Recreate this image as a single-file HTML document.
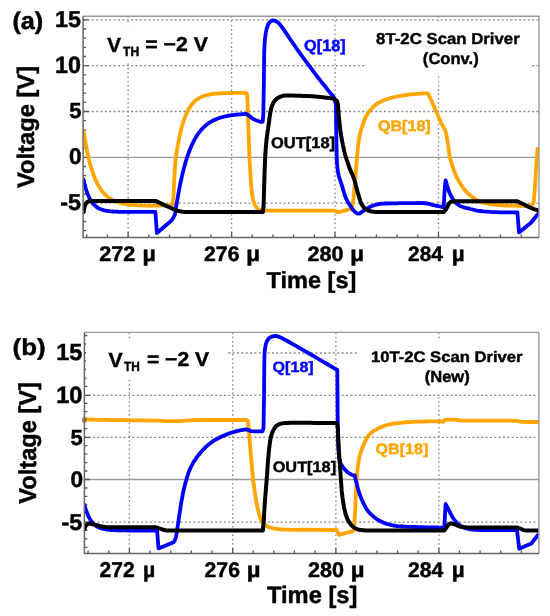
<!DOCTYPE html>
<html><head><meta charset="utf-8"><title>Scan driver waveforms</title>
<style>
html,body{margin:0;padding:0;background:#fff;width:550px;height:616px;overflow:hidden}
svg{display:block}
text{font-family:"Liberation Sans",Arial,sans-serif;font-weight:bold;fill:#000;text-rendering:geometricPrecision;stroke:#000;stroke-width:0.45px}
.tb{fill:#0000ff;stroke:#0000ff}.to{fill:#ffa500;stroke:#ffa500}
.g{stroke:#888;stroke-width:1.3;stroke-dasharray:2 2.36;fill:none}
.gv{stroke:#888;stroke-width:1.3;stroke-dasharray:1.6 2.7;fill:none}
.z{stroke:#9a9a9a;stroke-width:1.3;fill:none}
.t{stroke:#555;stroke-width:1.3;fill:none}
.c{fill:none;stroke-linejoin:round;stroke-linecap:round}
</style></head><body>
<svg width="550" height="616" viewBox="0 0 550 616">
<rect width="550" height="616" fill="#fff"/>

<defs><clipPath id="ca"><rect x="83.1" y="16.2" width="455.9" height="221.4"/></clipPath></defs>
<line x1="83.1" y1="19.8" x2="539.0" y2="19.8" class="g"/>
<line x1="83.1" y1="65.6" x2="539.0" y2="65.6" class="g"/>
<line x1="83.1" y1="111.5" x2="539.0" y2="111.5" class="g"/>
<line x1="83.1" y1="203.1" x2="539.0" y2="203.1" class="g"/>
<line x1="128.1" y1="16.2" x2="128.1" y2="237.6" class="gv"/>
<line x1="231.6" y1="16.2" x2="231.6" y2="237.6" class="gv"/>
<line x1="335.0" y1="16.2" x2="335.0" y2="237.6" class="gv"/>
<line x1="438.5" y1="16.2" x2="438.5" y2="237.6" class="gv"/>
<line x1="83.1" y1="157.3" x2="539.0" y2="157.3" class="z"/>
<path d="M128.1,237.6v-5.5M231.6,237.6v-5.5M335.0,237.6v-5.5M438.5,237.6v-5.5M86.7,237.6v-3M107.4,237.6v-3M148.8,237.6v-3M169.5,237.6v-3M190.2,237.6v-3M210.9,237.6v-3M252.2,237.6v-3M272.9,237.6v-3M293.6,237.6v-3M314.3,237.6v-3M355.7,237.6v-3M376.4,237.6v-3M397.1,237.6v-3M417.8,237.6v-3M459.1,237.6v-3M479.8,237.6v-3M500.5,237.6v-3M521.2,237.6v-3M83.1,19.8h5.5M83.1,65.6h5.5M83.1,111.5h5.5M83.1,203.1h5.5M83.1,157.3h5.5M83.1,230.6h3M83.1,221.5h3M83.1,212.3h3M83.1,194.0h3M83.1,184.8h3M83.1,175.6h3M83.1,166.5h3M83.1,148.1h3M83.1,139.0h3M83.1,129.8h3M83.1,120.6h3M83.1,102.3h3M83.1,93.1h3M83.1,84.0h3M83.1,74.8h3M83.1,56.5h3M83.1,47.3h3M83.1,38.1h3M83.1,29.0h3" class="t"/>
<rect x="86.0" y="25.0" width="141.0" height="38.0" fill="#fff"/>
<rect x="366.0" y="21.5" width="166.0" height="53.5" fill="#fff"/>
<g clip-path="url(#ca)">
<path d="M83.5,131.0 L84.5,137.2 L85.5,143.0 L86.5,148.2 L87.5,153.0 L88.5,157.4 L89.5,161.5 L90.5,165.2 L91.5,168.6 L92.5,171.7 L93.5,174.6 L94.5,177.2 L95.5,179.6 L96.5,181.8 L97.5,183.8 L98.5,185.6 L99.5,187.3 L100.5,188.9 L101.5,190.3 L102.5,191.6 L103.5,192.8 L104.5,193.9 L105.5,194.9 L106.5,195.8 L107.5,196.7 L108.5,197.5 L109.5,198.2 L110.5,198.8 L111.5,199.4 L112.5,200.0 L113.5,200.5 L114.5,200.9 L115.5,201.4 L116.5,201.7 L117.5,202.1 L118.5,202.4 L119.5,202.7 L120.5,203.0 L121.5,203.2 L122.5,203.5 L123.5,203.7 L124.5,203.9 L125.5,204.1 L126.5,204.2 L127.5,204.4 L128.5,204.5 L129.5,204.6 L130.5,204.7 L131.5,204.8 L132.5,204.9 L133.5,205.0 L134.5,205.1 L135.5,205.2 L136.5,205.3 L137.5,205.3 L138.5,205.4 L139.5,205.4 L140.5,205.5 L141.5,205.5 L142.5,205.6 L143.5,205.6 L144.5,205.6 L145.5,205.7 L146.5,205.7 L147.5,205.7 L148.5,205.7 L149.5,205.8 L150.0,205.8 L150.0,205.8 L151.1,205.8 L152.6,205.7 L154.3,205.6 L156.3,205.5 L158.2,205.5 L160.0,205.4 L161.8,205.4 L163.8,205.3 L165.8,205.3 L167.6,205.3 L169.2,205.2 L170.5,205.2 L171.3,205.2 L171.8,205.1 L172.1,205.1 L172.2,205.1 L172.2,205.0 L172.3,205.0 L172.6,203.3 L172.9,200.8 L173.3,197.8 L173.6,194.7 L173.8,191.5 L173.9,188.0 L174.0,184.2 L174.2,180.0 L174.5,174.9 L174.9,169.1 L175.2,163.7 L175.5,160.0 L176.5,153.1 L177.5,147.0 L178.5,141.5 L179.5,136.5 L180.5,132.1 L181.5,128.1 L182.5,124.5 L183.5,121.2 L184.5,118.3 L185.5,115.7 L186.5,113.4 L187.5,111.3 L188.5,109.4 L189.5,107.7 L190.5,106.2 L191.5,104.8 L192.5,103.6 L193.5,102.5 L194.5,101.5 L195.5,100.6 L196.5,99.8 L197.5,99.1 L198.5,98.5 L199.5,97.9 L200.5,97.4 L201.5,96.9 L202.5,96.5 L203.5,96.1 L204.5,95.8 L205.5,95.5 L206.5,95.2 L207.5,95.0 L208.5,94.7 L209.5,94.5 L210.5,94.4 L211.5,94.2 L212.5,94.1 L213.5,93.9 L214.5,93.8 L215.5,93.7 L216.5,93.6 L217.5,93.5 L218.5,93.5 L219.5,93.4 L220.5,93.3 L221.5,93.3 L222.5,93.2 L223.5,93.2 L224.5,93.1 L225.5,93.1 L226.5,93.1 L227.5,93.1 L228.5,93.0 L229.5,93.0 L230.5,93.0 L231.5,93.0 L232.5,92.9 L233.5,92.9 L234.5,92.9 L235.5,92.9 L236.5,92.9 L237.5,92.9 L238.5,92.9 L239.5,92.9 L240.5,92.9 L241.5,92.9 L242.5,92.8 L243.5,92.8 L244.5,92.8 L245.5,92.8 L246.9,93.6 L247.5,100.0 L247.8,112.0 L248.5,130.0 L249.6,160.0 L251.1,185.0 L251.3,186.6 L251.5,188.9 L251.8,191.5 L252.2,194.3 L252.5,196.9 L252.9,199.0 L253.3,200.7 L253.8,202.1 L254.3,203.4 L254.8,204.6 L255.3,205.6 L255.8,206.5 L256.3,207.3 L256.8,207.9 L257.3,208.4 L257.9,208.8 L258.4,209.2 L259.0,209.5 L259.6,209.8 L260.2,210.0 L260.8,210.2 L261.4,210.3 L262.2,210.4 L263.0,210.5 L264.1,210.6 L265.4,210.6 L266.8,210.7 L268.1,210.7 L269.2,210.7 L270.0,210.7 L335.0,210.7 L338.0,212.3 L351.9,208.6 L352.1,207.5 L352.4,206.0 L352.7,204.2 L353.0,202.2 L353.3,200.1 L353.6,198.0 L353.8,196.0 L354.0,194.0 L354.2,191.9 L354.3,189.6 L354.5,186.9 L354.8,183.8 L355.1,180.0 L355.5,175.5 L355.9,170.7 L356.3,165.9 L356.7,161.4 L357.0,157.5 L357.3,154.2 L357.6,151.3 L357.8,148.7 L358.1,146.4 L358.3,144.1 L358.6,142.0 L358.9,140.0 L359.2,138.1 L359.5,136.5 L359.8,134.9 L360.2,133.4 L360.5,132.0 L360.8,130.7 L361.2,129.5 L361.5,128.4 L361.9,127.3 L362.3,126.2 L362.7,125.0 L363.2,123.6 L363.7,122.2 L364.2,120.7 L364.8,119.2 L365.4,117.8 L366.0,116.5 L366.6,115.4 L367.2,114.3 L367.8,113.4 L368.4,112.5 L369.1,111.5 L370.0,110.5 L371.0,109.4 L372.0,108.2 L373.1,107.0 L374.3,105.8 L375.7,104.7 L377.3,103.6 L379.0,102.6 L380.9,101.6 L383.0,100.7 L385.2,99.8 L387.5,99.0 L390.0,98.2 L392.7,97.5 L395.7,96.8 L398.9,96.2 L402.1,95.6 L405.2,95.1 L408.2,94.7 L411.2,94.3 L414.2,94.1 L417.3,93.8 L420.1,93.7 L422.5,93.5 L424.5,93.4 L425.9,93.3 L426.7,93.3 L427.3,93.3 L427.6,93.3 L427.8,93.3 L428.0,93.3 L432.0,102.0 L436.2,111.2 L440.9,122.4 L445.2,130.2 L445.3,130.8 L445.5,131.5 L445.8,132.4 L446.1,133.5 L446.3,134.7 L446.6,136.0 L446.9,137.5 L447.2,139.2 L447.5,141.0 L447.8,143.0 L448.1,144.9 L448.4,146.7 L448.6,148.5 L448.8,150.2 L449.0,151.9 L449.3,153.7 L449.5,155.5 L449.9,157.3 L450.4,159.2 L450.9,161.2 L451.5,163.2 L452.1,165.2 L452.8,167.2 L453.5,169.2 L454.3,171.2 L455.1,173.2 L455.9,175.2 L456.8,177.2 L457.7,179.1 L458.7,180.9 L459.7,182.6 L460.7,184.3 L461.8,185.9 L462.8,187.4 L463.9,188.9 L465.1,190.3 L466.3,191.6 L467.5,192.9 L468.8,194.1 L470.1,195.2 L471.4,196.3 L472.7,197.3 L474.0,198.2 L475.3,199.1 L476.7,199.9 L478.0,200.7 L479.5,201.4 L481.0,202.0 L482.6,202.5 L484.2,203.0 L485.9,203.4 L487.7,203.7 L489.6,204.0 L491.5,204.3 L493.4,204.6 L495.3,204.8 L497.3,205.0 L499.5,205.2 L502.0,205.4 L505.0,205.5 L508.9,205.6 L513.7,205.7 L518.8,205.8 L523.8,205.9 L528.0,206.0 L531.0,206.0 L533.5,203.0 L534.8,190.0 L536.0,170.0 L537.6,149.0" class="c" stroke="#ffa500" stroke-width="3.8"/>
<path d="M83.5,179.5 L84.5,183.8 L85.5,187.6 L86.5,190.8 L87.5,193.6 L88.5,196.1 L89.5,198.2 L90.5,200.0 L91.5,201.6 L92.5,203.0 L93.5,204.2 L94.5,205.2 L95.5,206.1 L96.5,206.9 L97.5,207.6 L98.5,208.2 L99.5,208.7 L100.5,209.1 L101.5,209.5 L102.5,209.8 L103.5,210.1 L104.5,210.4 L105.5,210.6 L106.5,210.8 L107.5,210.9 L108.5,211.1 L109.5,211.2 L110.5,211.3 L111.5,211.4 L112.5,211.5 L113.5,211.6 L114.5,211.6 L115.5,211.7 L116.5,211.7 L117.5,211.7 L118.5,211.8 L119.5,211.8 L120.5,211.8 L121.5,211.9 L122.5,211.9 L123.5,211.9 L124.5,211.9 L125.5,211.9 L126.5,211.9 L127.5,211.9 L128.5,211.9 L129.5,212.0 L130.0,212.0 L130.0,211.9 L155.4,211.9 L156.9,233.0 L171.5,220.5 L172.0,219.8 L172.7,218.7 L173.4,217.5 L174.0,216.5 L174.4,215.7 L174.7,215.1 L174.9,214.4 L175.1,213.5 L175.3,212.3 L175.5,210.9 L175.7,209.4 L175.9,208.0 L176.1,206.6 L176.4,205.2 L176.6,203.9 L176.8,203.0 L177.8,197.0 L178.8,191.4 L179.8,186.2 L180.8,181.4 L181.8,176.8 L182.8,172.6 L183.8,168.6 L184.8,164.9 L185.8,161.5 L186.8,158.3 L187.8,155.3 L188.8,152.5 L189.8,149.8 L190.8,147.4 L191.8,145.1 L192.8,143.0 L193.8,141.0 L194.8,139.2 L195.8,137.4 L196.8,135.8 L197.8,134.3 L198.8,132.9 L199.8,131.6 L200.8,130.4 L201.8,129.2 L202.8,128.1 L203.8,127.2 L204.8,126.2 L205.8,125.4 L206.8,124.5 L207.8,123.8 L208.8,123.1 L209.8,122.4 L210.8,121.8 L211.8,121.2 L212.8,120.7 L213.8,120.2 L214.8,119.7 L215.8,119.3 L216.8,118.9 L217.8,118.5 L218.8,118.2 L219.8,117.8 L220.8,117.5 L221.8,117.2 L222.8,117.0 L223.8,116.7 L224.8,116.5 L225.8,116.3 L226.8,116.1 L227.8,115.9 L228.8,115.7 L229.8,115.5 L230.8,115.4 L231.8,115.2 L232.8,115.1 L233.8,115.0 L234.8,114.8 L235.8,114.7 L236.8,114.6 L237.8,114.5 L238.8,114.4 L239.8,114.4 L240.8,114.3 L241.8,114.2 L242.8,114.1 L243.8,114.1 L244.8,114.0 L245.8,114.0 L246.5,113.9 L246.5,113.9 L247.0,114.3 L247.8,114.8 L248.6,115.4 L249.5,116.0 L250.3,116.7 L251.2,117.5 L252.1,118.2 L253.0,118.9 L254.0,119.4 L255.0,119.9 L256.0,120.2 L257.0,120.6 L258.1,121.0 L259.1,121.3 L260.2,121.6 L261.0,121.8 L261.6,121.9 L262.1,121.9 L262.4,121.9 L262.7,121.9 L263.3,115.0 L263.9,80.0 L264.1,60.0 L264.1,58.9 L264.1,57.5 L264.2,55.8 L264.2,53.9 L264.2,52.1 L264.3,50.4 L264.4,48.9 L264.4,47.3 L264.5,45.8 L264.6,44.3 L264.7,42.8 L264.8,41.3 L264.9,39.8 L265.1,38.2 L265.3,36.6 L265.5,35.0 L265.7,33.6 L265.9,32.2 L266.2,30.9 L266.4,29.8 L266.7,28.7 L267.0,27.6 L267.4,26.7 L267.7,25.8 L268.0,25.0 L268.4,24.2 L268.8,23.5 L269.1,22.9 L269.6,22.4 L270.0,21.9 L270.5,21.5 L271.0,21.1 L271.5,20.8 L272.0,20.6 L272.6,20.5 L273.2,20.5 L273.9,20.6 L274.6,20.7 L275.4,21.0 L276.1,21.3 L276.9,21.8 L277.7,22.3 L278.4,22.9 L279.1,23.5 L279.7,24.2 L280.4,25.1 L281.3,26.2 L282.3,27.6 L283.5,29.3 L284.9,31.4 L286.5,33.7 L288.1,36.1 L289.7,38.6 L291.4,41.0 L293.1,43.4 L294.7,45.8 L296.4,48.3 L298.2,50.8 L300.2,53.6 L302.3,56.5 L304.6,59.7 L307.2,63.1 L309.8,66.7 L312.6,70.4 L315.3,74.0 L318.0,77.5 L320.8,81.1 L323.9,85.0 L327.0,88.8 L329.8,92.4 L332.3,95.3 L334.0,97.5 L335.8,104.0 L336.4,140.0 L336.8,160.0 L336.9,161.1 L337.0,162.6 L337.1,164.3 L337.3,166.2 L337.4,168.0 L337.6,169.5 L337.8,170.8 L338.0,172.1 L338.2,173.2 L338.5,174.3 L338.7,175.4 L339.0,176.5 L339.3,177.5 L339.5,178.3 L339.8,179.0 L340.1,179.9 L340.5,181.0 L341.0,182.5 L341.6,184.5 L342.3,186.9 L343.1,189.6 L343.9,192.3 L344.7,194.8 L345.5,197.0 L346.3,198.9 L347.2,200.6 L348.0,202.1 L348.8,203.5 L349.7,204.8 L350.4,206.0 L351.1,207.1 L351.7,208.1 L352.3,208.9 L352.9,209.7 L353.4,210.4 L354.0,211.0 L354.6,211.6 L355.2,212.1 L355.8,212.6 L356.4,213.0 L357.0,213.3 L357.5,213.5 L358.0,213.6 L358.4,213.7 L358.8,213.7 L359.1,213.6 L359.5,213.5 L360.0,213.3 L360.5,213.0 L361.0,212.7 L361.5,212.3 L362.1,211.8 L362.8,211.3 L363.5,210.8 L364.3,210.3 L365.2,209.7 L366.1,209.0 L367.1,208.4 L368.2,207.8 L369.4,207.2 L370.7,206.6 L372.0,206.1 L373.4,205.5 L374.9,205.0 L376.5,204.6 L378.2,204.2 L379.9,203.9 L381.6,203.7 L383.4,203.6 L385.3,203.5 L387.5,203.5 L390.0,203.4 L392.9,203.3 L396.2,203.3 L399.8,203.2 L403.4,203.2 L406.9,203.2 L410.0,203.2 L412.8,203.2 L415.6,203.1 L418.1,203.0 L420.6,203.0 L422.8,203.1 L425.0,203.2 L427.0,203.5 L428.8,203.8 L430.4,204.2 L431.9,204.7 L433.5,205.1 L435.0,205.5 L436.6,205.8 L438.3,206.2 L440.0,206.5 L441.5,206.9 L442.8,207.1 L443.7,207.3 L444.6,190.0 L445.6,180.4 L445.9,181.4 L446.3,182.8 L446.7,184.4 L447.2,186.0 L447.7,187.5 L448.1,189.1 L448.7,190.8 L449.4,192.6 L450.4,194.6 L451.6,196.9 L452.8,199.0 L454.0,200.8 L455.0,202.1 L456.0,203.0 L457.0,203.8 L458.0,204.5 L458.9,205.2 L459.8,205.7 L460.9,206.2 L462.2,206.7 L463.9,207.3 L466.0,207.9 L468.2,208.4 L470.4,209.0 L472.6,209.5 L474.8,210.1 L477.2,210.6 L480.0,211.0 L483.2,211.4 L486.7,211.6 L490.6,211.9 L495.0,212.1 L500.6,212.3 L507.1,212.4 L513.2,212.4 L517.4,212.5 L519.0,232.4 L531.0,222.8 L538.0,214.0" class="c" stroke="#0000ff" stroke-width="3.8"/>
<path d="M83.5,212.0 L83.7,211.1 L84.0,209.7 L84.3,208.3 L84.6,207.0 L84.9,205.9 L85.3,204.9 L85.7,204.0 L86.2,203.2 L86.7,202.6 L87.3,202.0 L87.9,201.6 L88.7,201.3 L89.6,201.1 L90.6,201.0 L91.7,200.9 L93.0,200.9 L94.7,200.9 L96.8,200.9 L98.7,200.9 L100.0,200.9 L156.1,201.1 L156.8,201.4 L157.7,201.9 L158.8,202.4 L160.0,203.0 L161.3,203.6 L162.9,204.4 L164.4,205.1 L166.0,205.8 L167.5,206.5 L169.1,207.2 L170.7,207.9 L172.2,208.5 L173.6,209.1 L175.0,209.7 L176.5,210.3 L178.0,210.8 L179.7,211.2 L181.4,211.5 L183.3,211.8 L185.3,212.0 L187.8,212.1 L190.6,212.1 L193.2,212.1 L195.0,212.1 L262.9,212.1 L263.6,205.0 L264.5,175.0 L265.2,156.0 L265.4,153.8 L265.6,150.5 L265.9,146.8 L266.2,143.2 L266.5,140.0 L266.8,137.5 L267.1,135.3 L267.4,133.2 L267.7,131.0 L268.1,128.5 L268.5,125.5 L269.0,122.1 L269.4,118.6 L269.9,115.3 L270.3,112.7 L270.7,110.7 L271.0,109.3 L271.3,108.1 L271.6,107.0 L272.0,106.0 L272.4,105.0 L272.8,104.0 L273.2,103.1 L273.6,102.4 L274.1,101.6 L274.6,100.9 L275.2,100.2 L275.8,99.6 L276.4,99.1 L277.0,98.6 L277.6,98.2 L278.1,97.8 L278.7,97.5 L279.3,97.2 L280.0,96.9 L280.7,96.6 L281.4,96.3 L282.2,96.0 L283.3,95.8 L285.0,95.6 L287.4,95.5 L290.3,95.5 L293.5,95.6 L296.8,95.7 L300.0,95.8 L303.0,95.9 L305.9,96.0 L308.8,96.1 L311.8,96.3 L315.0,96.5 L318.5,96.8 L322.4,97.2 L326.3,97.7 L329.8,98.1 L332.5,98.6 L334.3,99.1 L335.5,99.7 L336.1,100.2 L336.6,100.7 L337.0,101.0 L337.8,104.0 L339.0,117.7 L340.5,132.0 L340.8,133.5 L341.1,135.6 L341.6,138.1 L342.0,140.7 L342.5,143.0 L342.9,145.1 L343.4,147.2 L343.8,149.3 L344.3,151.4 L344.8,153.3 L345.3,155.2 L345.8,156.9 L346.4,158.6 L346.9,160.3 L347.5,162.0 L348.1,163.7 L348.6,165.3 L349.2,167.0 L349.7,168.5 L350.3,170.0 L350.9,171.3 L351.4,172.5 L352.0,173.7 L352.5,174.8 L353.0,176.0 L353.4,177.1 L353.8,178.2 L354.2,179.4 L354.6,180.6 L355.0,182.0 L355.5,183.7 L355.9,185.6 L356.4,187.6 L356.9,189.5 L357.4,191.3 L357.8,192.9 L358.3,194.4 L358.7,195.8 L359.1,197.2 L359.5,198.5 L359.9,199.7 L360.3,200.9 L360.7,202.0 L361.1,203.0 L361.6,204.0 L362.1,205.0 L362.7,205.9 L363.3,206.7 L363.9,207.5 L364.5,208.2 L365.1,208.8 L365.7,209.3 L366.4,209.7 L367.1,210.1 L368.0,210.5 L369.0,210.8 L370.2,211.1 L371.4,211.4 L372.7,211.6 L374.0,211.8 L375.3,211.9 L376.6,212.0 L378.0,212.0 L379.5,212.1 L381.0,212.1 L382.8,212.1 L384.9,212.1 L387.0,212.1 L388.7,212.1 L390.0,212.1 L443.7,212.1 L444.2,211.5 L444.9,210.6 L445.8,209.6 L446.5,208.5 L447.1,207.3 L447.8,205.9 L448.4,204.6 L449.0,203.5 L449.6,202.8 L450.1,202.3 L450.7,201.9 L451.5,201.6 L452.6,201.4 L453.9,201.3 L455.1,201.3 L456.0,201.3 L517.4,201.3 L518.2,201.7 L519.4,202.3 L520.8,202.9 L522.0,203.5 L523.1,204.0 L524.1,204.5 L525.1,205.1 L526.2,205.6 L527.3,206.2 L528.4,206.8 L529.6,207.4 L531.0,208.0 L532.8,208.6 L534.8,209.3 L536.7,209.9 L538.0,210.3" class="c" stroke="#000000" stroke-width="4.0"/>
</g>
<path d="M83.1,16.2H539.0V237.6" stroke="#999" stroke-width="1.4" fill="none"/>
<path d="M83.1,16.2V237.6H539.0" stroke="#666" stroke-width="1.5" fill="none"/>
<defs><clipPath id="cb"><rect x="84.4" y="332.4" width="454.5" height="221.1"/></clipPath></defs>
<line x1="84.4" y1="353.0" x2="538.9" y2="353.0" class="g"/>
<line x1="84.4" y1="395.3" x2="538.9" y2="395.3" class="g"/>
<line x1="84.4" y1="437.4" x2="538.9" y2="437.4" class="g"/>
<line x1="84.4" y1="522.2" x2="538.9" y2="522.2" class="g"/>
<line x1="129.4" y1="332.4" x2="129.4" y2="553.5" class="gv"/>
<line x1="232.7" y1="332.4" x2="232.7" y2="553.5" class="gv"/>
<line x1="335.9" y1="332.4" x2="335.9" y2="553.5" class="gv"/>
<line x1="438.9" y1="332.4" x2="438.9" y2="553.5" class="gv"/>
<line x1="84.4" y1="479.5" x2="538.9" y2="479.5" class="z"/>
<path d="M129.4,553.5v-5.5M232.7,553.5v-5.5M335.9,553.5v-5.5M438.9,553.5v-5.5M88.1,553.5v-3M108.8,553.5v-3M150.0,553.5v-3M170.7,553.5v-3M191.3,553.5v-3M211.9,553.5v-3M253.2,553.5v-3M273.8,553.5v-3M294.4,553.5v-3M315.1,553.5v-3M356.3,553.5v-3M377.0,553.5v-3M397.6,553.5v-3M418.2,553.5v-3M459.5,553.5v-3M480.1,553.5v-3M500.7,553.5v-3M521.4,553.5v-3M84.4,353.0h5.5M84.4,395.3h5.5M84.4,437.4h5.5M84.4,522.2h5.5M84.4,479.5h5.5M84.4,547.3h3M84.4,538.8h3M84.4,530.3h3M84.4,513.4h3M84.4,504.9h3M84.4,496.4h3M84.4,488.0h3M84.4,471.0h3M84.4,462.6h3M84.4,454.1h3M84.4,445.6h3M84.4,428.7h3M84.4,420.2h3M84.4,411.7h3M84.4,403.3h3M84.4,386.3h3M84.4,377.9h3M84.4,369.4h3M84.4,360.9h3M84.4,344.0h3M84.4,335.5h3" class="t"/>
<rect x="86.0" y="341.0" width="141.0" height="37.0" fill="#fff"/>
<rect x="357.0" y="341.0" width="181.0" height="53.0" fill="#fff"/>
<g clip-path="url(#cb)">
<path d="M84.5,419.3 L86.9,419.4 L90.4,419.5 L94.7,419.7 L100.0,419.8 L106.6,419.9 L114.4,420.1 L122.5,420.2 L130.0,420.3 L136.9,420.4 L143.6,420.4 L149.8,420.5 L155.0,420.6 L158.9,420.7 L161.8,420.9 L164.2,421.1 L167.0,421.2 L170.2,421.2 L173.4,421.2 L176.7,421.1 L180.0,421.0 L183.1,420.8 L186.2,420.6 L189.6,420.4 L194.0,420.2 L199.6,420.1 L206.2,420.0 L213.2,420.0 L220.0,420.0 L227.2,420.0 L234.8,420.0 L241.6,420.0 L246.3,420.0 L248.0,421.0 L249.6,440.0 L250.6,452.0 L253.1,479.6 L253.3,481.4 L253.7,484.1 L254.1,487.1 L254.5,490.2 L254.9,493.0 L255.3,495.6 L255.7,498.1 L256.1,500.6 L256.5,502.9 L256.9,505.0 L257.3,506.9 L257.7,508.6 L258.1,510.1 L258.5,511.5 L258.9,513.0 L259.3,514.5 L259.7,515.9 L260.1,517.2 L260.5,518.5 L261.1,519.7 L261.8,520.8 L262.5,521.9 L263.3,522.9 L264.2,523.8 L265.0,524.6 L265.8,525.3 L266.7,525.9 L267.5,526.4 L268.5,526.9 L269.5,527.3 L270.6,527.7 L271.8,528.0 L273.1,528.3 L274.5,528.6 L276.0,528.8 L277.5,529.0 L279.1,529.2 L280.8,529.3 L282.8,529.5 L285.0,529.6 L287.9,529.7 L291.3,529.8 L294.8,529.8 L297.9,529.9 L300.0,529.9 L300.0,529.7 L336.5,530.0 L339.0,534.8 L353.4,530.8 L353.6,529.5 L353.8,527.7 L354.1,525.5 L354.4,522.9 L354.6,520.0 L354.8,516.6 L355.0,512.8 L355.2,508.6 L355.4,504.3 L355.6,500.0 L355.8,495.6 L356.0,491.1 L356.3,486.5 L356.5,482.0 L356.8,478.0 L357.1,474.3 L357.4,470.9 L357.7,467.7 L358.1,464.8 L358.5,462.0 L358.9,459.6 L359.3,457.5 L359.8,455.6 L360.3,453.6 L361.0,451.5 L361.9,449.0 L363.0,446.3 L364.2,443.6 L365.3,441.1 L366.4,439.0 L367.3,437.4 L368.2,436.1 L369.0,435.0 L369.9,434.0 L371.0,433.0 L372.2,432.0 L373.6,431.1 L375.0,430.2 L376.5,429.4 L378.0,428.6 L379.5,427.8 L381.1,427.1 L382.7,426.5 L384.3,425.9 L386.0,425.3 L387.6,424.8 L389.2,424.4 L390.9,424.1 L392.8,423.7 L395.0,423.4 L397.6,423.1 L400.6,422.8 L403.7,422.5 L406.9,422.2 L410.0,422.0 L413.0,421.8 L416.0,421.7 L419.0,421.6 L422.0,421.6 L425.0,421.5 L428.2,421.4 L431.6,421.4 L434.9,421.4 L437.8,421.4 L440.0,421.4 L441.4,421.5 L442.2,421.5 L442.6,421.6 L442.8,421.7 L443.0,421.8 L443.3,421.6 L443.7,421.2 L444.1,420.8 L444.5,420.5 L444.7,420.2 L444.7,420.0 L445.0,419.7 L446.0,419.6 L448.0,419.6 L450.7,419.6 L453.6,419.7 L456.0,419.8 L457.3,420.0 L457.9,420.1 L459.0,420.3 L462.0,420.5 L467.5,420.6 L474.8,420.6 L482.6,420.7 L490.0,420.7 L497.1,420.7 L504.3,420.7 L510.8,420.7 L515.7,420.8 L518.2,421.0 L519.1,421.2 L519.3,421.4 L520.0,421.6 L521.2,421.7 L522.5,421.9 L524.0,421.9 L526.0,422.0 L529.1,422.0 L532.9,422.0 L536.5,422.0 L539.0,422.0" class="c" stroke="#ffa500" stroke-width="3.8"/>
<path d="M84.5,505.0 L85.5,508.5 L86.5,511.5 L87.5,514.1 L88.5,516.3 L89.5,518.3 L90.5,519.9 L91.5,521.4 L92.5,522.6 L93.5,523.7 L94.5,524.6 L95.5,525.4 L96.5,526.1 L97.5,526.7 L98.5,527.2 L99.5,527.7 L100.5,528.1 L101.5,528.4 L102.5,528.7 L103.5,528.9 L104.5,529.2 L105.5,529.3 L106.5,529.5 L107.5,529.6 L108.5,529.8 L109.5,529.9 L110.5,529.9 L111.5,530.0 L112.5,530.1 L113.5,530.1 L114.5,530.2 L115.5,530.2 L116.5,530.3 L117.5,530.3 L118.5,530.3 L119.5,530.4 L120.5,530.4 L121.5,530.4 L122.5,530.4 L123.5,530.4 L124.5,530.4 L125.5,530.4 L126.5,530.4 L127.5,530.5 L128.5,530.5 L129.5,530.5 L130.0,530.5 L130.0,530.5 L157.1,530.4 L158.5,548.4 L173.6,542.3 L173.9,541.8 L174.3,541.1 L174.7,540.3 L175.1,539.4 L175.5,538.5 L175.8,537.6 L176.0,536.7 L176.2,535.6 L176.4,534.5 L176.6,533.0 L176.9,531.3 L177.2,529.4 L177.5,527.3 L177.9,525.0 L178.3,522.4 L178.7,519.4 L179.2,516.0 L179.7,512.4 L180.3,508.8 L180.8,505.4 L181.3,502.2 L181.9,499.1 L182.5,496.0 L183.0,493.2 L183.6,490.5 L184.1,488.2 L184.6,486.1 L185.1,484.2 L185.6,482.2 L186.2,480.2 L186.9,478.0 L187.6,475.7 L188.3,473.4 L189.1,471.2 L190.0,469.0 L191.0,467.0 L192.0,465.0 L193.0,463.1 L194.2,461.1 L195.5,459.2 L196.9,457.2 L198.4,455.2 L200.0,453.2 L201.7,451.3 L203.4,449.4 L205.2,447.6 L207.0,445.9 L209.0,444.2 L211.0,442.7 L213.0,441.2 L215.1,439.9 L217.4,438.7 L219.6,437.5 L221.9,436.5 L224.2,435.5 L226.5,434.5 L228.8,433.6 L231.1,432.8 L233.4,432.1 L235.6,431.4 L237.8,430.8 L240.0,430.4 L242.1,430.0 L244.0,429.7 L245.5,429.5 L246.6,429.5 L247.4,429.6 L247.9,429.8 L248.4,430.1 L249.0,430.3 L249.5,430.5 L249.9,430.7 L250.3,430.9 L250.9,431.1 L252.0,431.2 L253.8,431.3 L256.2,431.3 L258.7,431.3 L261.0,431.3 L262.5,431.3 L263.5,428.0 L264.0,400.0 L264.3,365.0 L264.3,363.3 L264.4,360.8 L264.4,358.0 L264.5,355.3 L264.6,353.0 L264.7,351.2 L264.9,349.7 L265.1,348.4 L265.3,347.2 L265.5,346.0 L265.7,344.8 L266.0,343.8 L266.3,342.8 L266.6,341.9 L267.0,341.0 L267.5,340.2 L268.0,339.4 L268.6,338.7 L269.2,338.0 L270.0,337.5 L270.9,337.0 L271.9,336.6 L272.9,336.3 L274.0,336.1 L275.0,336.0 L275.9,336.0 L276.8,336.1 L277.6,336.4 L278.7,336.7 L280.0,337.3 L281.5,338.0 L283.2,338.8 L285.0,339.8 L287.3,341.0 L290.0,342.5 L293.2,344.3 L296.9,346.4 L301.0,348.8 L305.4,351.3 L310.0,354.0 L315.4,357.2 L321.7,360.8 L328.0,364.5 L333.5,367.8 L337.3,370.0 L337.7,420.0 L338.3,448.0 L339.0,457.0 L339.2,458.0 L339.5,459.5 L339.9,461.1 L340.3,462.5 L340.8,463.6 L341.3,464.6 L341.9,465.6 L342.5,466.5 L343.2,467.5 L344.0,468.4 L344.7,469.4 L345.5,470.2 L346.2,470.9 L346.9,471.6 L347.6,472.2 L348.4,472.8 L349.3,473.4 L350.2,473.9 L351.1,474.4 L352.0,474.8 L352.8,475.1 L353.6,475.3 L354.2,475.5 L354.7,475.6 L354.7,475.5 L355.0,476.8 L355.4,478.6 L355.9,480.7 L356.5,482.9 L357.0,485.0 L357.5,487.0 L358.1,489.0 L358.7,491.0 L359.3,493.1 L360.0,495.0 L360.7,496.9 L361.4,498.8 L362.2,500.6 L363.0,502.3 L363.8,504.0 L364.6,505.5 L365.4,507.0 L366.2,508.4 L367.0,509.7 L368.0,511.0 L369.1,512.3 L370.2,513.5 L371.4,514.8 L372.7,515.9 L374.0,517.0 L375.3,518.0 L376.6,519.0 L378.0,519.9 L379.5,520.7 L381.0,521.5 L382.6,522.2 L384.3,523.0 L386.0,523.6 L387.8,524.2 L389.7,524.7 L391.6,525.1 L393.5,525.5 L395.5,525.8 L397.6,526.1 L400.0,526.3 L402.6,526.5 L405.5,526.7 L408.5,526.8 L411.7,526.9 L415.0,527.0 L418.7,527.1 L422.7,527.2 L426.8,527.3 L430.7,527.3 L434.0,527.4 L436.8,527.5 L439.2,527.6 L441.3,527.7 L443.0,527.7 L444.3,527.8 L445.0,515.0 L445.6,504.0 L445.9,504.6 L446.4,505.4 L446.9,506.4 L447.5,507.5 L448.1,508.6 L448.7,509.8 L449.3,511.1 L450.0,512.5 L450.8,513.9 L451.6,515.5 L452.4,517.0 L453.4,518.5 L454.4,519.9 L455.5,521.3 L456.7,522.6 L458.0,523.8 L459.3,524.9 L460.7,525.9 L462.2,526.7 L463.8,527.5 L465.5,528.1 L467.1,528.7 L469.2,529.1 L472.0,529.5 L475.6,529.8 L479.8,530.0 L484.6,530.1 L490.0,530.2 L496.8,530.2 L504.6,530.2 L511.9,530.2 L517.0,530.2 L519.2,548.8 L531.3,543.5 L538.0,535.0" class="c" stroke="#0000ff" stroke-width="3.8"/>
<path d="M84.5,529.0 L84.7,528.4 L85.0,527.5 L85.4,526.6 L85.8,525.8 L86.3,525.2 L86.9,524.6 L87.6,524.1 L88.4,523.8 L89.4,523.7 L90.4,523.8 L91.6,524.0 L92.7,524.2 L93.8,524.4 L94.9,524.7 L96.0,524.9 L97.0,525.2 L97.9,525.4 L98.6,525.7 L99.4,525.9 L100.4,526.1 L101.6,526.4 L102.9,526.6 L104.3,526.9 L105.8,527.1 L107.4,527.2 L109.2,527.3 L110.9,527.3 L112.0,527.3 L156.2,527.3 L156.9,527.5 L157.9,527.9 L159.0,528.3 L160.0,528.6 L160.9,528.9 L161.7,529.2 L162.6,529.5 L163.5,529.8 L164.4,530.0 L165.2,530.2 L166.2,530.4 L167.4,530.5 L169.2,530.6 L171.4,530.6 L173.5,530.6 L175.0,530.6 L262.9,530.5 L263.8,520.0 L264.8,502.7 L266.7,479.3 L267.0,475.7 L267.3,470.5 L267.7,464.6 L268.2,458.8 L268.6,454.0 L269.0,450.1 L269.4,446.6 L269.8,443.5 L270.2,440.8 L270.6,438.4 L271.0,436.5 L271.4,435.1 L271.7,433.9 L272.1,433.0 L272.5,432.0 L272.9,431.1 L273.3,430.2 L273.7,429.5 L274.1,428.8 L274.5,428.2 L275.0,427.6 L275.4,427.0 L275.9,426.5 L276.4,426.0 L277.0,425.5 L277.6,425.1 L278.1,424.7 L278.8,424.4 L279.5,424.1 L280.3,423.8 L281.2,423.6 L282.3,423.4 L283.4,423.2 L284.7,423.1 L286.0,423.0 L287.2,422.9 L288.2,422.9 L289.4,422.8 L291.2,422.8 L294.0,422.8 L298.2,422.8 L303.5,422.8 L309.4,422.8 L315.1,422.9 L320.0,422.9 L324.2,422.9 L328.2,422.9 L331.7,423.0 L334.7,423.0 L336.8,423.0 L337.8,428.0 L339.0,452.0 L341.7,491.0 L341.9,492.6 L342.2,495.0 L342.5,497.7 L342.9,500.5 L343.3,503.0 L343.7,505.3 L344.1,507.6 L344.6,509.9 L345.1,512.0 L345.6,514.0 L346.2,515.8 L346.8,517.6 L347.5,519.2 L348.2,520.6 L349.0,522.0 L349.8,523.2 L350.7,524.3 L351.6,525.3 L352.5,526.2 L353.4,527.0 L354.3,527.7 L355.2,528.3 L356.1,528.7 L357.0,529.1 L358.0,529.5 L359.0,529.8 L360.1,530.0 L361.2,530.1 L362.5,530.2 L363.8,530.3 L365.4,530.4 L367.3,530.4 L369.2,530.5 L370.8,530.5 L372.0,530.5 L444.3,530.5 L444.7,530.0 L445.3,529.2 L445.9,528.3 L446.5,527.5 L447.0,526.7 L447.5,525.9 L448.0,525.1 L448.5,524.5 L449.0,524.1 L449.5,523.8 L450.1,523.6 L450.8,523.5 L451.7,523.6 L452.8,523.8 L453.9,524.2 L455.0,524.5 L456.0,524.9 L457.0,525.4 L457.9,525.8 L459.0,526.2 L460.1,526.5 L461.3,526.8 L462.5,527.0 L463.8,527.2 L465.4,527.3 L467.2,527.4 L468.9,527.4 L470.0,527.4 L517.0,527.4 L517.7,527.6 L518.6,528.0 L519.6,528.4 L520.5,528.7 L521.2,529.0 L521.8,529.3 L522.4,529.6 L523.0,529.8 L523.5,530.0 L523.9,530.2 L524.6,530.3 L526.0,530.4 L528.8,530.5 L532.4,530.5 L536.0,530.5 L538.5,530.5" class="c" stroke="#000000" stroke-width="4.0"/>
</g>
<path d="M84.4,332.4H538.9V553.5" stroke="#999" stroke-width="1.4" fill="none"/>
<path d="M84.4,332.4V553.5H538.9" stroke="#666" stroke-width="1.5" fill="none"/>
<rect x="82.2" y="417.6" width="4.6" height="4.8" fill="#7d6a45" opacity="0.85"/>
<g transform="matrix(1.0101 0 0 0.9670 -88.61 -164.60)"><text x="100" y="200" font-size="25">(a)</text></g>
<g transform="matrix(1.0591 0 0 1.0485 -50.90 -182.61)"><text x="100" y="200" font-size="22">15</text></g>
<g transform="matrix(1.0570 0 0 1.0808 -50.69 -142.88)"><text x="100" y="200" font-size="22">10</text></g>
<g transform="matrix(1.0009 0 0 0.9972 -30.94 -81.13)"><text x="100" y="200" font-size="22">5</text></g>
<g transform="matrix(1.0285 0 0 1.0356 -33.77 -42.80)"><text x="100" y="200" font-size="22">0</text></g>
<g transform="matrix(1.0604 0 0 1.0425 -45.76 1.69)"><text x="100" y="200" font-size="22">-5</text></g>
<g transform="matrix(0.9936 0 0 0.9884 -65.56 -70.70)"><text transform="translate(100,200) rotate(-90)" font-size="24" text-anchor="middle">Voltage [V]</text></g>
<g transform="matrix(0.9799 0 0 0.9731 9.20 -143.11)"><text x="100" y="200" font-size="21">V</text></g>
<g transform="matrix(0.9299 0 0 1.0222 30.06 -148.54)"><text x="100" y="200" font-size="13">TH</text></g>
<g transform="matrix(1.0131 0 0 0.9608 43.91 -140.67)"><text x="100" y="200" font-size="21">= −2 V</text></g>
<g transform="matrix(0.9865 0 0 0.9299 277.47 -142.29)"><text x="100" y="200" font-size="17">8T-2C Scan Driver</text></g>
<g transform="matrix(0.9744 0 0 0.9578 325.42 -127.66)"><text x="100" y="200" font-size="17">(Conv.)</text></g>
<g transform="matrix(1.0172 0 0 1.0182 202.37 -152.94)"><text x="100" y="200" font-size="16" class="tb">Q[18]</text></g>
<g transform="matrix(1.0274 0 0 0.9727 168.34 -46.45)"><text x="100" y="200" font-size="16">OUT[18]</text></g>
<g transform="matrix(1.0045 0 0 0.9455 277.55 -58.59)"><text x="100" y="200" font-size="16" class="to">QB[18]</text></g>
<g transform="matrix(1.0283 0 0 1.0137 -3.59 58.35)"><text x="100" y="200" font-size="21">272</text></g>
<g transform="matrix(1.0097 0 0 0.9991 103.09 61.07)"><text x="100" y="200" font-size="21">276</text></g>
<g transform="matrix(1.0300 0 0 0.9991 204.44 61.08)"><text x="100" y="200" font-size="21">280</text></g>
<g transform="matrix(0.9896 0 0 0.9991 309.11 61.08)"><text x="100" y="200" font-size="21">284</text></g>
<g transform="matrix(1.0962 0 0 1.0137 32.86 58.35)"><text x="100" y="200" font-size="21">µ</text></g>
<g transform="matrix(1.1388 0 0 1.0137 132.44 58.35)"><text x="100" y="200" font-size="21">µ</text></g>
<g transform="matrix(1.1388 0 0 1.0137 236.44 58.35)"><text x="100" y="200" font-size="21">µ</text></g>
<g transform="matrix(1.0643 0 0 1.0137 345.30 58.35)"><text x="100" y="200" font-size="21">µ</text></g>
<g transform="matrix(1.0233 0 0 1.0042 164.18 86.75)"><text x="100" y="200" font-size="23">Time [s]</text></g>
<g transform="matrix(1.0356 0 0 0.9260 -90.99 169.47)"><text x="100" y="200" font-size="25">(b)</text></g>
<g transform="matrix(1.0636 0 0 1.0614 -50.15 148.20)"><text x="100" y="200" font-size="22">15</text></g>
<g transform="matrix(1.0751 0 0 1.0679 -51.32 189.01)"><text x="100" y="200" font-size="22">10</text></g>
<g transform="matrix(1.0009 0 0 0.9972 -29.64 245.37)"><text x="100" y="200" font-size="22">5</text></g>
<g transform="matrix(1.0285 0 0 1.0226 -32.47 282.81)"><text x="100" y="200" font-size="22">0</text></g>
<g transform="matrix(1.0604 0 0 1.0425 -44.46 321.59)"><text x="100" y="200" font-size="22">-5</text></g>
<g transform="matrix(1.0178 0 0 0.9852 -66.28 245.86)"><text transform="translate(100,200) rotate(-90)" font-size="24" text-anchor="middle">Voltage [V]</text></g>
<g transform="matrix(1.0107 0 0 0.9731 7.40 171.89)"><text x="100" y="200" font-size="21">V</text></g>
<g transform="matrix(0.9116 0 0 1.0222 32.79 166.96)"><text x="100" y="200" font-size="13">TH</text></g>
<g transform="matrix(1.0048 0 0 0.9608 46.44 174.33)"><text x="100" y="200" font-size="21">= −2 V</text></g>
<g transform="matrix(0.9772 0 0 0.8987 273.31 182.57)"><text x="100" y="200" font-size="17">10T-2C Scan Driver</text></g>
<g transform="matrix(0.9748 0 0 0.9460 327.18 193.00)"><text x="100" y="200" font-size="17">(New)</text></g>
<g transform="matrix(1.0045 0 0 0.9273 172.15 186.65)"><text x="100" y="200" font-size="16" class="tb">Q[18]</text></g>
<g transform="matrix(1.0192 0 0 0.9455 170.77 282.51)"><text x="100" y="200" font-size="16">OUT[18]</text></g>
<g transform="matrix(1.0103 0 0 0.9364 274.36 267.13)"><text x="100" y="200" font-size="16" class="to">QB[18]</text></g>
<g transform="matrix(1.0013 0 0 1.0205 -0.57 372.89)"><text x="100" y="200" font-size="21">272</text></g>
<g transform="matrix(1.0097 0 0 1.0058 103.59 375.63)"><text x="100" y="200" font-size="21">276</text></g>
<g transform="matrix(1.0300 0 0 1.0058 204.94 375.64)"><text x="100" y="200" font-size="21">280</text></g>
<g transform="matrix(1.0072 0 0 1.0058 307.34 375.64)"><text x="100" y="200" font-size="21">284</text></g>
<g transform="matrix(1.0111 0 0 1.0205 41.79 372.89)"><text x="100" y="200" font-size="21">µ</text></g>
<g transform="matrix(1.1388 0 0 1.0205 132.84 372.89)"><text x="100" y="200" font-size="21">µ</text></g>
<g transform="matrix(1.1388 0 0 1.0205 236.84 372.89)"><text x="100" y="200" font-size="21">µ</text></g>
<g transform="matrix(1.0643 0 0 1.0205 345.30 372.89)"><text x="100" y="200" font-size="21">µ</text></g>
<g transform="matrix(1.0292 0 0 1.0360 164.09 396.20)"><text x="100" y="200" font-size="23">Time [s]</text></g>
</svg>
</body></html>
